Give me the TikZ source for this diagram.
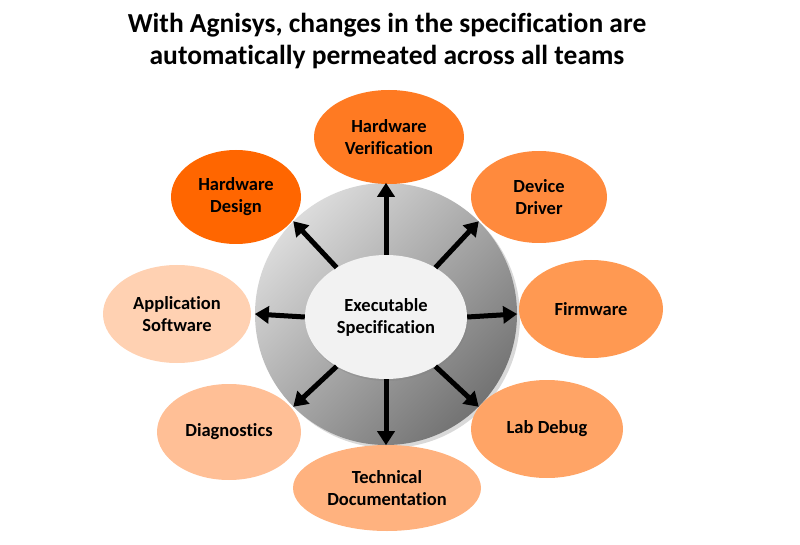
\documentclass[tikz,border=0pt]{standalone}
\usepackage{fontspec}
\setmainfont[Ligatures=CommonOff]{Carlito}
\usetikzlibrary{shapes.geometric,arrows.meta,shadows}
\definecolor{hwdes}{HTML}{FF6600}
\definecolor{hwver}{HTML}{FF7A22}
\definecolor{drv}{HTML}{FF8A3D}
\definecolor{fw}{HTML}{FF9952}
\definecolor{lab}{HTML}{FFA466}
\definecolor{doc}{HTML}{FFB27F}
\definecolor{diag}{HTML}{FFBF96}
\definecolor{app}{HTML}{FFD1B2}
\begin{document}
\begin{tikzpicture}[x=1pt,y=-1pt,
    every node/.style={font=\fontsize{18.5}{22}\selectfont\bfseries,align=center,inner sep=0pt},
    team/.style={ellipse,minimum width=#1},
    spoke/.style={line width=5pt,-{Triangle[length=14pt,width=17pt]}}]
        \useasboundingbox (0,0) rectangle (800,545);
        \node[font=\fontsize{27.5}{32}\selectfont\bfseries] (title) at (387,41)
            {With Agnisys, changes in the specification are\\automatically permeated across all teams};
        \node[circle,minimum size=262pt,top color=black!14,bottom color=black!55,shading angle=45,
            drop shadow={shadow xshift=3pt,shadow yshift=-3pt,opacity=.3}] (hub) at (386,314) {};
        \node[ellipse,minimum width=162pt,minimum height=124pt,fill=black!5,
            drop shadow={shadow xshift=1pt,shadow yshift=-2pt,opacity=.3}] (spec) at (386,317) {Executable\\Specification};
        \node[team=130pt,minimum height=94pt,fill=hwdes] (hwdes) at (236,197) {Hardware\\Design};
        \node[team=150pt,minimum height=94pt,fill=hwver] (hwver) at (389,137) {Hardware\\Verification};
        \node[team=136pt,minimum height=92pt,fill=drv] (drv) at (539,197) {Device\\Driver};
        \node[team=144pt,minimum height=98pt,fill=fw] (fw) at (591,309) {Firmware};
        \node[team=152pt,minimum height=98pt,fill=lab] (lab) at (547,429) {Lab Debug};
        \node[team=188pt,minimum height=86pt,fill=doc] (doc) at (387,488) {Technical\\Documentation};
        \node[team=144pt,minimum height=96pt,fill=diag] (diag) at (229,432) {Diagnostics};
        \node[team=148pt,minimum height=98pt,fill=app] (app) at (177,314) {Application\\Software};
        \foreach \a in {0,45,...,315}
            \draw[spoke] (spec.\a) -- (hub.\a);
\end{tikzpicture}
\end{document}
